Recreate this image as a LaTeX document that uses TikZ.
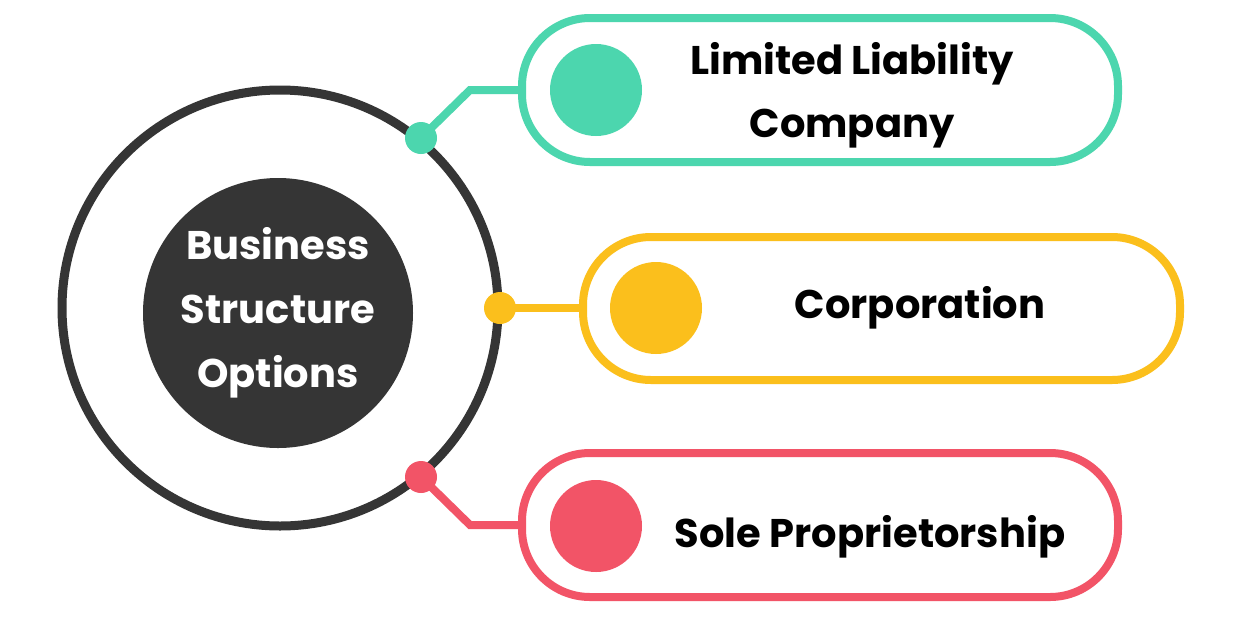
\documentclass[tikz,border=0pt]{standalone}
\usepackage{fontspec}
\setmainfont{Poppins}
\definecolor{cg}{HTML}{4CD6AE}
\definecolor{cy}{HTML}{FBBF1C}
\definecolor{cr}{HTML}{F25467}
\definecolor{dk}{HTML}{353535}
\begin{document}
\begin{tikzpicture}[x=1pt,y=-1pt,
  pill/.style={draw=#1,line width=8pt,rounded corners=68pt},
  lbl/.style={font=\fontsize{40}{63}\selectfont\bfseries,align=center,text=black},
  dot/.style={circle,fill=#1,inner sep=0pt,minimum size=32pt},
  big/.style={circle,fill=#1,inner sep=0pt,minimum size=92pt},
  conn/.style={draw=#1,line width=8pt}]
\useasboundingbox (0,0) rectangle (1250,625);
\fill[white] (0,0) rectangle (1250,625);
\node[circle,draw=dk,line width=9pt,minimum size=436pt,inner sep=0pt] (outer) at (280,308) {};
\node[circle,fill=dk,minimum size=270pt,inner sep=0pt,text=white,font=\fontsize{40}{64}\selectfont\bfseries,align=center] (core) at (278,313) {Business\\Structure\\Options};
% green
\draw[pill=cg] (522,18) rectangle (1118,162);
\node[big=cg] (g) at (596,90) {};
\node[lbl] (gt) at (852,95) {Limited Liability\\Company};
\node[dot=cg] (gd) at (421,138) {};
\coordinate (gk) at (470,90);
\coordinate (ge) at (522,90);
\draw[conn=cg] (gd.center) -- (gk) -- (ge);
% yellow
\draw[pill=cy] (583,237) rectangle (1180,380);
\node[big=cy] (y) at (656,308) {};
\node[lbl] (yt) at (920,308) {Corporation};
\node[dot=cy] (yd) at (500,308) {};
\coordinate (ye) at (583,308);
\draw[conn=cy] (yd.center) -- (ye);
% red
\draw[pill=cr] (522,453) rectangle (1118,597);
\node[big=cr] (r) at (596,526) {};
\node[lbl] (rt) at (870,537) {Sole Proprietorship};
\node[dot=cr] (rd) at (421,477) {};
\coordinate (rk) at (470,525);
\coordinate (re) at (522,525);
\draw[conn=cr] (rd.center) -- (rk) -- (re);
\end{tikzpicture}
\end{document}
